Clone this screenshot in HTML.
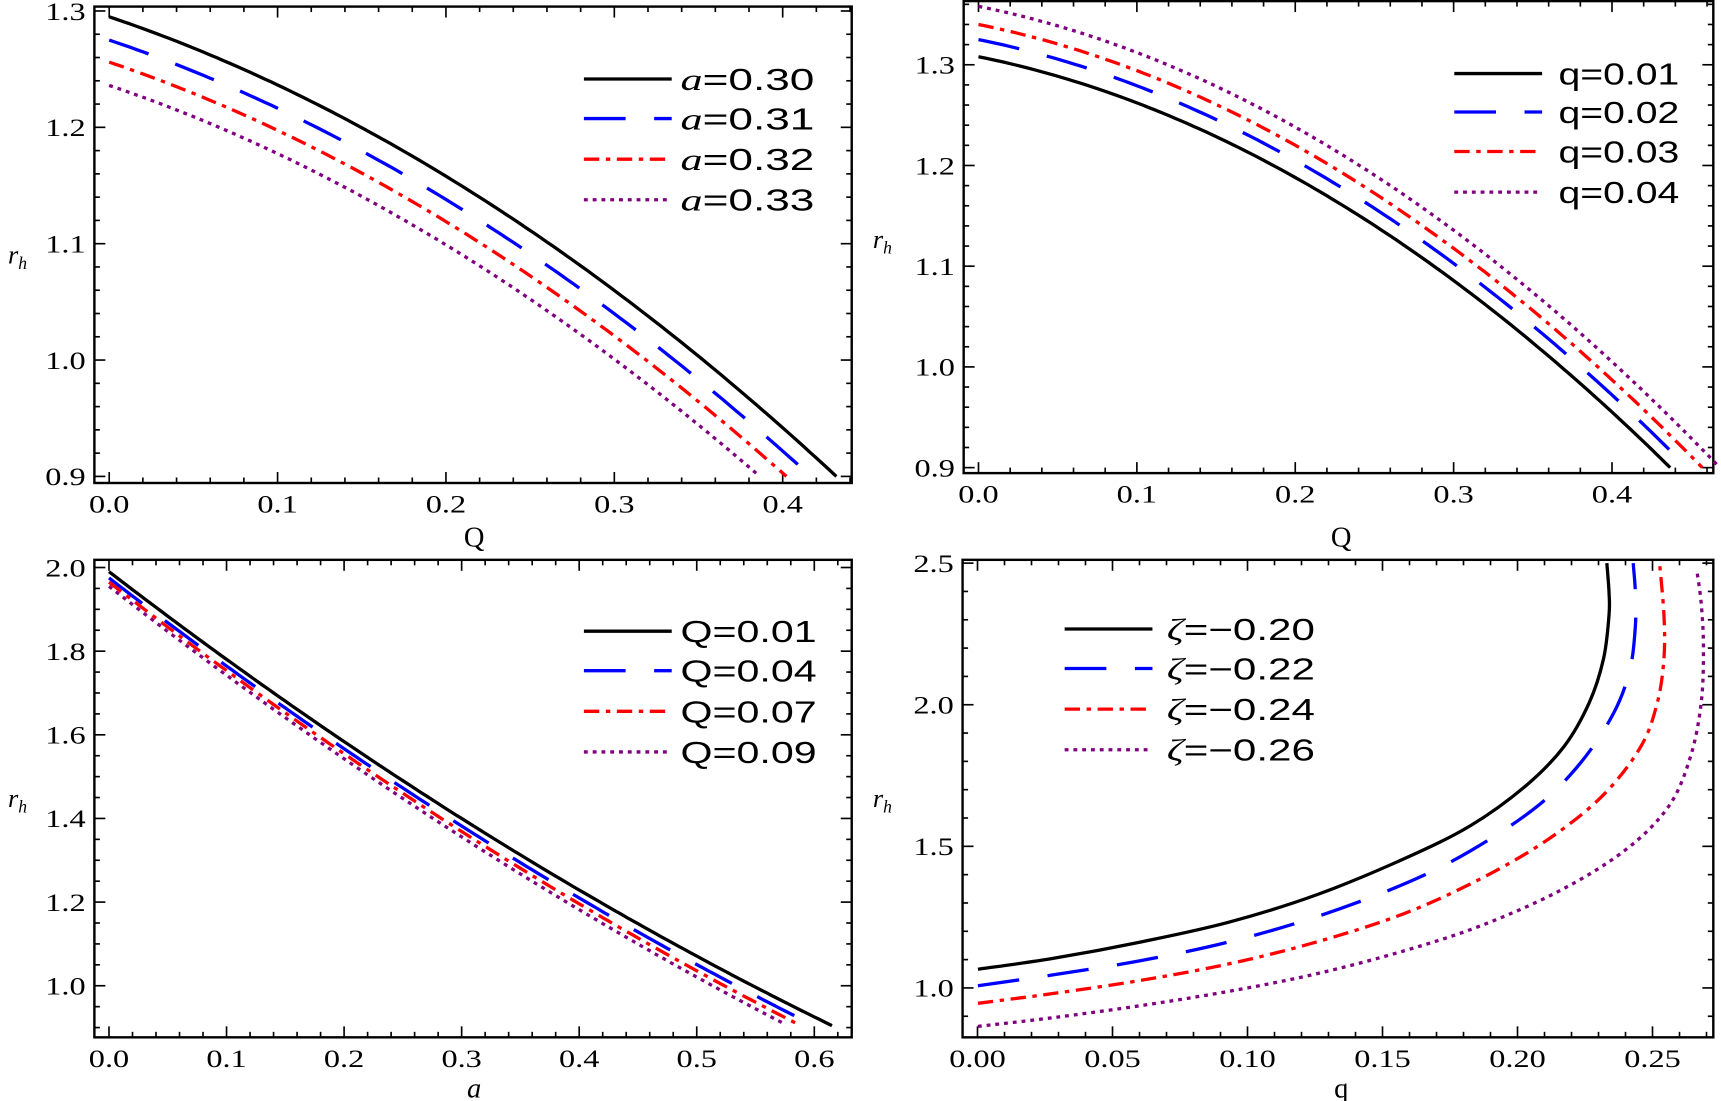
<!DOCTYPE html>
<html><head><meta charset="utf-8"><style>html,body{margin:0;padding:0;background:#fff;}svg{display:block;}</style></head>
<body>
<svg id="s" xmlns="http://www.w3.org/2000/svg" width="1721" height="1101" viewBox="0 0 1568 1003" preserveAspectRatio="none" font-family="'Liberation Serif', serif"></svg>
<script>
const S=document.getElementById('s');let h='';
const styles=[{c:'#000',d:''},{c:'#0000ff',d:'38,26'},{c:'#ff0000',d:'14,6,4,6'},{c:'#800080',d:'3.5,4.5'}];
function path(pts,st){let d='M'+pts.map(p=>p[0].toFixed(1)+','+p[1].toFixed(1)).join('L');
h+=`<path d="${d}" fill="none" stroke="${st.c}" stroke-width="3" ${st.d?`stroke-dasharray="${st.d}"`:''} stroke-linejoin="round"/>`;}
function smooth(pts,st){let d='M'+pts[0][0]+','+pts[0][1];
for(let i=0;i<pts.length-1;i++){const p0=pts[Math.max(0,i-1)],p1=pts[i],p2=pts[i+1],p3=pts[Math.min(pts.length-1,i+2)];
d+=` C${(p1[0]+(p2[0]-p0[0])/6).toFixed(1)},${(p1[1]+(p2[1]-p0[1])/6).toFixed(1)} ${(p2[0]-(p3[0]-p1[0])/6).toFixed(1)},${(p2[1]-(p3[1]-p1[1])/6).toFixed(1)} ${p2[0]},${p2[1]}`;}
h+=`<path d="${d}" fill="none" stroke="${st.c}" stroke-width="3" ${st.d?`stroke-dasharray="${st.d}"`:''}/>`;}
function tl(s,fs){let w=0;for(const ch of s)w+=(ch=='.'?0.25:0.5);return (w*fs*1.28).toFixed(1);}
function panel(P){const [l,t,r,b]=P.f;
h+=`<rect x="${l}" y="${t}" width="${r-l}" height="${b-t}" fill="none" stroke="#000" stroke-width="2.2"/>`;
const eps=1e-6;
for(let v=P.x0;v<=P.x1+eps;v+=P.xm){const x=P.X(v);if(x<l||x>r)continue;
 const maj=Math.abs(v/P.xM-Math.round(v/P.xM))<1e-4;const L=maj?10:5;
 h+=`<line x1="${x}" y1="${b}" x2="${x}" y2="${b-L}" stroke="#000" stroke-width="1.5"/><line x1="${x}" y1="${t}" x2="${x}" y2="${t+L}" stroke="#000" stroke-width="1.5"/>`;
 if(maj){const s=v.toFixed(P.xd);h+=`<text x="${x}" y="${b+27}" font-size="23" text-anchor="middle" textLength="${tl(s,23)}" lengthAdjust="spacingAndGlyphs">${s}</text>`;}}
for(let v=P.y0;v<=P.y1+eps;v+=P.ym){const y=P.Y(v);if(y<t||y>b)continue;
 const maj=Math.abs(v/P.yM-Math.round(v/P.yM))<1e-4;const L=maj?10:5;
 h+=`<line x1="${l}" y1="${y}" x2="${l+L}" y2="${y}" stroke="#000" stroke-width="1.5"/><line x1="${r}" y1="${y}" x2="${r-L}" y2="${y}" stroke="#000" stroke-width="1.5"/>`;
 if(maj&&v>=P.yl-eps){const s=v.toFixed(P.yd);h+=`<text x="${l-8}" y="${y+8}" font-size="23" text-anchor="end" textLength="${tl(s,23)}" lengthAdjust="spacingAndGlyphs">${s}</text>`;}}
h+=`<text x="${P.xl[0]}" y="${P.xl[1]}" font-size="26" text-anchor="middle" ${P.xi?'font-style="italic"':''}>${P.xl[2]}</text>`;
h+=`<text x="${P.rl[0]}" y="${P.rl[1]}" font-size="24" font-style="italic" text-anchor="middle">r<tspan font-size="16" dy="5">h</tspan></text>`;
P.leg.ys.forEach((y,i)=>{h+=`<line x1="${P.leg.x1}" y1="${y}" x2="${P.leg.x2}" y2="${y}" stroke="${styles[i].c}" stroke-width="3" ${styles[i].d?`stroke-dasharray="${styles[i].d}"`:''}/>`;
 h+=`<text x="${P.leg.tx}" y="${y+10}" font-size="28" font-family="'Liberation Sans',sans-serif" textLength="${P.leg.w}" lengthAdjust="spacingAndGlyphs">${P.leg.t[i]}</text>`;});}
const A='<tspan font-family="Liberation Serif,serif" font-style="italic">a</tspan>';
const Z='<tspan font-family="Liberation Serif,serif" font-style="italic">ζ</tspan>';
// P1
const P1={f:[86,6,776,440],X:v=>99.5+v*1534,Y:v=>10+(1.3-v)*1060,x0:0,x1:0.44,xm:0.02,xM:0.1,xd:1,y0:0.88,y1:1.32,ym:0.02,yM:0.1,yd:1,yl:0.9,
xl:[432,498,'Q'],rl:[16,240],leg:{x1:532,x2:612,tx:620,w:122,ys:[72,108,145,182],t:[A+'=0.30',A+'=0.31',A+'=0.32',A+'=0.33']}};
panel(P1);
[1.295,1.275,1.256,1.236].forEach((r0,i)=>{const pts=[];for(let q=0;q<=0.5;q+=0.004){const r=r0-0.487*q-0.99*q*q;if(r<0.9){break;}pts.push([P1.X(q),P1.Y(r)]);}
 const qe=(-0.487+Math.sqrt(0.487*0.487+4*0.99*(r0-0.9)))/(2*0.99);pts.push([P1.X(qe),P1.Y(0.9)]);path(pts,styles[i]);});
// P2
const P2={f:[878,1,1561,431],X:v=>891.5+v*1443,Y:v=>59+(1.3-v)*917.5,x0:0,x1:0.48,xm:0.02,xM:0.1,xd:1,y0:0.88,y1:1.36,ym:0.02,yM:0.1,yd:1,yl:0.9,
xl:[1222,498,'Q'],rl:[804,226],leg:{x1:1325,x2:1405,tx:1420,w:110,ys:[67,102,138,175],t:['q=0.01','q=0.02','q=0.03','q=0.04']}};
panel(P2);
[1.308,1.325,1.34,1.358].forEach((r0,i)=>{const pts=[];for(let q=0;q<=0.5;q+=0.004){const r=r0-0.317*q-1.413*q*q;if(r<0.9)break;pts.push([P2.X(q),P2.Y(r)]);}
 const qe=(-0.317+Math.sqrt(0.317*0.317+4*1.413*(r0-0.9)))/(2*1.413);pts.push([P2.X(qe),P2.Y(0.9)]);path(pts,styles[i]);});
// P3
const P3={f:[86,510,776,945],X:v=>99.3+v*1071,Y:v=>517+(2.0-v)*381,x0:0,x1:0.64,xm:0.02,xM:0.1,xd:1,y0:0.9,y1:2.05,ym:0.05,yM:0.2,yd:1,yl:1.0,
xl:[432,1000,'a'],xi:true,rl:[16,735],leg:{x1:532,x2:612,tx:620,w:124,ys:[575,611,648,685],t:['Q=0.01','Q=0.04','Q=0.07','Q=0.09']}};
panel(P3);
[[1.99,2.16,0.617],[1.975,2.17,0.60],[1.965,2.18,0.585],[1.955,2.19,0.575]].forEach((c,i)=>{const pts=[];for(let a=0;a<=c[2]+1e-6;a+=0.005){const r=c[0]-c[1]*a+0.643*a*a;pts.push([P3.X(a),P3.Y(r)]);}path(pts,styles[i]);});
// P4
const P4={f:[877,510,1561,945],X:v=>890.6+v*2460,Y:v=>513+(2.5-v)*258,x0:0,x1:0.27,xm:0.01,xM:0.05,xd:2,y0:0.9,y1:2.5,ym:0.1,yM:0.5,yd:1,yl:1.0,
xl:[1222,1000,'q'],rl:[804,735],leg:{x1:970,x2:1050,tx:1063,w:135,ys:[573,609,646,683],t:[Z+'=−0.20',Z+'=−0.22',Z+'=−0.24',Z+'=−0.26']}};
panel(P4);
const C4=[
[[891,883],[960,873],[1040,858],[1120,840],[1200,815],[1280,782],[1340,752],[1390,716],[1425,680],[1448,640],[1461,600],[1466,560],[1466,540],[1464,513]],
[[891,898],[960,888],[1040,875],[1120,858],[1200,835],[1280,805],[1340,775],[1400,735],[1440,695],[1470,650],[1485,610],[1490,570],[1490,540],[1488,513]],
[[891,914],[960,905],[1040,893],[1120,878],[1200,858],[1280,832],[1350,800],[1410,765],[1460,725],[1495,680],[1510,640],[1516,600],[1516,560],[1512,513]],
[[891,935],[960,927],[1040,916],[1120,903],[1200,887],[1280,866],[1350,843],[1420,812],[1480,775],[1520,735],[1540,690],[1550,640],[1552,590],[1550,550],[1546,520]]];
C4.forEach((p,i)=>smooth(p,styles[i]));
S.innerHTML=h;
</script>
</body></html>
